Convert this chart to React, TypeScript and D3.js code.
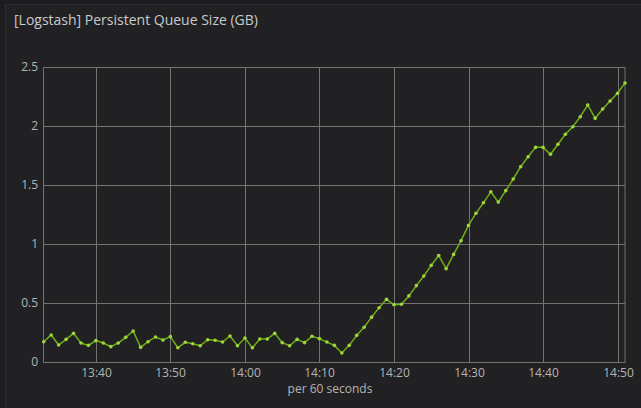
import React from "react";
import * as d3 from "d3";

const startTime = "13:33";
const values = [
  0.172, 0.229, 0.144, 0.192, 0.243, 0.161, 0.141,
  0.181, 0.161, 0.13, 0.161, 0.209, 0.263, 0.124, 0.172, 0.212, 0.186,
  0.215, 0.121, 0.167, 0.155, 0.138, 0.189, 0.184, 0.169, 0.22, 0.138,
  0.203, 0.121, 0.195, 0.195, 0.243, 0.164, 0.138, 0.192, 0.164, 0.218,
  0.198, 0.169, 0.141, 0.076, 0.141, 0.226, 0.294, 0.38, 0.46, 0.531,
  0.485, 0.489, 0.56, 0.647, 0.729, 0.819, 0.903, 0.791, 0.912, 1.028,
  1.158, 1.26, 1.349, 1.443, 1.355, 1.452, 1.551, 1.655, 1.74, 1.819,
  1.819, 1.76, 1.845, 1.93, 1.994, 2.079, 2.178, 2.065, 2.144, 2.212,
  2.277, 2.364,
];
const yTicks = [0, 0.5, 1, 1.5, 2, 2.5];
const xTickLabels = ["13:40", "13:50", "14:00", "14:10", "14:20", "14:30", "14:40", "14:50"];
const title = "[Logstash] Persistent Queue Size (GB)";
const xAxisLabel = "per 60 seconds";

const W = 641;
const H = 408;
const plot = { left: 43.5, right: 625, top: 67, bottom: 362 };

function toMinutes(s: string) {
  const [h, m] = s.split(":").map(Number);
  return h * 60 + m;
}

export default function App() {
  const t0 = toMinutes(startTime);
  const data = values.map((v, i) => ({ t: t0 + i, v }));
  const x = d3
    .scaleLinear()
    .domain([t0 - 0.03, t0 + values.length - 1])
    .range([plot.left, plot.right]);
  const y = d3.scaleLinear().domain([0, 2.5]).range([plot.bottom, plot.top]);
  const line = d3
    .line<{ t: number; v: number }>()
    .x((d) => x(d.t))
    .y((d) => y(d.v));
  const font = "'Open Sans', 'Noto Sans', sans-serif";
  const grid = "#737373";
  return (
    <svg
      width={W}
      height={H}
      style={{ position: "absolute", left: 0, top: 0, display: "block" }}
    >
      <rect x={0} y={0} width={W} height={H} fill="#1d1d1f" />
      <rect x={5.5} y={4.5} width={W} height={H} fill="#212123" stroke="#2f2f31" />
      <text x={14} y={25} fill="#c9cacb" fontSize={14} fontFamily={font}>
        {title}
      </text>
      {yTicks.map((t) => (
        <g key={t}>
          <line
            x1={plot.left}
            x2={plot.right}
            y1={Math.round(y(t)) + 0.5}
            y2={Math.round(y(t)) + 0.5}
            stroke={grid}
          />
          <text
            x={38}
            y={y(t) + 4}
            textAnchor="end"
            fill="#b4b4b4"
            fontSize={12}
            fontFamily={font}
          >
            {String(t)}
          </text>
        </g>
      ))}
      {xTickLabels.map((l) => {
        const px = Math.round(x(toMinutes(l))) + 0.5;
        return (
          <g key={l}>
            <line x1={px} x2={px} y1={plot.top} y2={plot.bottom} stroke={grid} />
            <text
              x={px}
              y={376.5}
              textAnchor="middle"
              fill="#b4b4b4"
              fontSize={12}
              fontFamily={font}
            >
              {l}
            </text>
          </g>
        );
      })}
      <rect
        x={plot.left}
        y={plot.top + 0.5}
        width={plot.right - plot.left}
        height={plot.bottom - plot.top}
        fill="none"
        stroke={grid}
      />
      <path d={line(data) || ""} fill="none" stroke="#6fae17" strokeWidth={1.5} />
      {data.map((d, i) => (
        <circle key={i} cx={x(d.t)} cy={y(d.v)} r={1.8} fill="#9fd63c" />
      ))}
      <text
        x={330}
        y={393}
        textAnchor="middle"
        fill="#b4b4b4"
        fontSize={12}
        fontFamily={font}
      >
        {xAxisLabel}
      </text>
    </svg>
  );
}
